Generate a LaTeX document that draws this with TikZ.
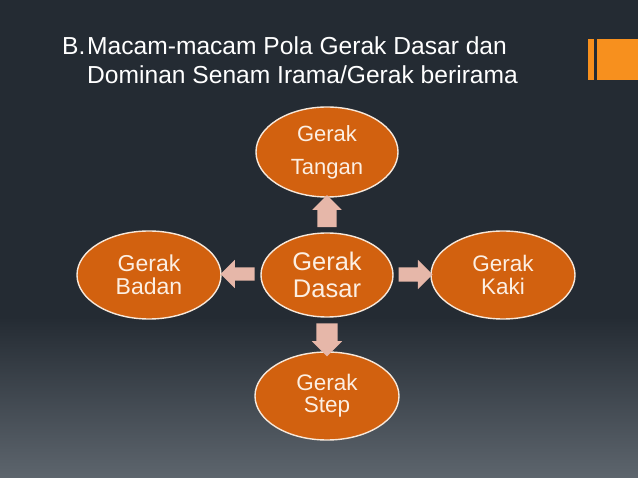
\documentclass[tikz,border=0pt]{standalone}
\usepackage{fontspec}
\setmainfont{Liberation Sans}
\usetikzlibrary{shapes.geometric,shapes.arrows}
\definecolor{bgtop}{HTML}{242B33}
\definecolor{bgbot}{HTML}{5D656D}
\definecolor{ovalfill}{HTML}{D2610F}
\definecolor{ovalline}{HTML}{F7E8DA}
\definecolor{ovaltext}{HTML}{FCEFE3}
\definecolor{arrowfill}{HTML}{E6B7A9}
\definecolor{logoorange}{HTML}{F7901E}
\tikzset{
  oval/.style={ellipse, fill=ovalfill, draw=ovalline, line width=1.4pt,
    text=ovaltext, align=center, inner sep=0pt,
    minimum width=144pt, minimum height=88pt},
  blockarrow/.style={single arrow, fill=arrowfill, draw=none,
    single arrow head indent=0pt, single arrow tip angle=90},
  titletext/.style={text=white, inner sep=0pt, anchor=base west,
    font=\fontsize{24.6}{29}\selectfont}
}
\begin{document}
\begin{tikzpicture}[x=1pt,y=-1pt]
\useasboundingbox (0,0) rectangle (638,478);
\fill[bgtop] (0,0) rectangle (638,318);
\shade[top color=bgtop, bottom color=bgbot] (0,317) rectangle (638,478);
% logo
\fill[logoorange] (588,39) rectangle (594,80);
\fill[logoorange] (597,39) rectangle (638,80);
% title
\node[titletext] (tb) at (62,55) {B.};
\node[titletext] (t1) at (87,55) {Macam-macam Pola Gerak Dasar dan};
\node[titletext] (t2) at (87,84) {Dominan Senam Irama/Gerak berirama};
% ovals
\node[oval, minimum width=132pt, minimum height=84pt,
  font=\fontsize{25.5}{27}\selectfont] (dasar) at (327,275) {Gerak\\Dasar};
\node[oval, minimum width=142pt, minimum height=90pt,
  font=\fontsize{22}{33}\selectfont] (tangan) at (327,152) {Gerak\\Tangan};
\node[oval, font=\fontsize{23}{23}\selectfont] (badan) at (149,275) {Gerak\\Badan};
\node[oval, font=\fontsize{22.5}{23}\selectfont] (kaki) at (503,275) {Gerak\\Kaki};
\node[oval, font=\fontsize{22.5}{22}\selectfont] (step) at (327,396) {Gerak\\Step};
% arrows
\node[blockarrow, minimum height=32pt, inner ysep=0pt, inner xsep=9.5pt,
  single arrow head extend=5pt, shape border rotate=90] (aup) at (327,216) {};
\node[blockarrow, minimum height=33pt, inner ysep=0pt, inner xsep=10.5pt,
  single arrow head extend=4.5pt, shape border rotate=270] (adown) at (327,334.5) {};
\node[blockarrow, minimum height=34pt, inner xsep=0pt, inner ysep=6.5pt,
  single arrow head extend=7.5pt, shape border rotate=180] (aleft) at (241,274) {};
\node[blockarrow, minimum height=34pt, inner xsep=0pt, inner ysep=7pt,
  single arrow head extend=7.5pt, shape border rotate=0] (aright) at (412,274.5) {};
\end{tikzpicture}
\end{document}
